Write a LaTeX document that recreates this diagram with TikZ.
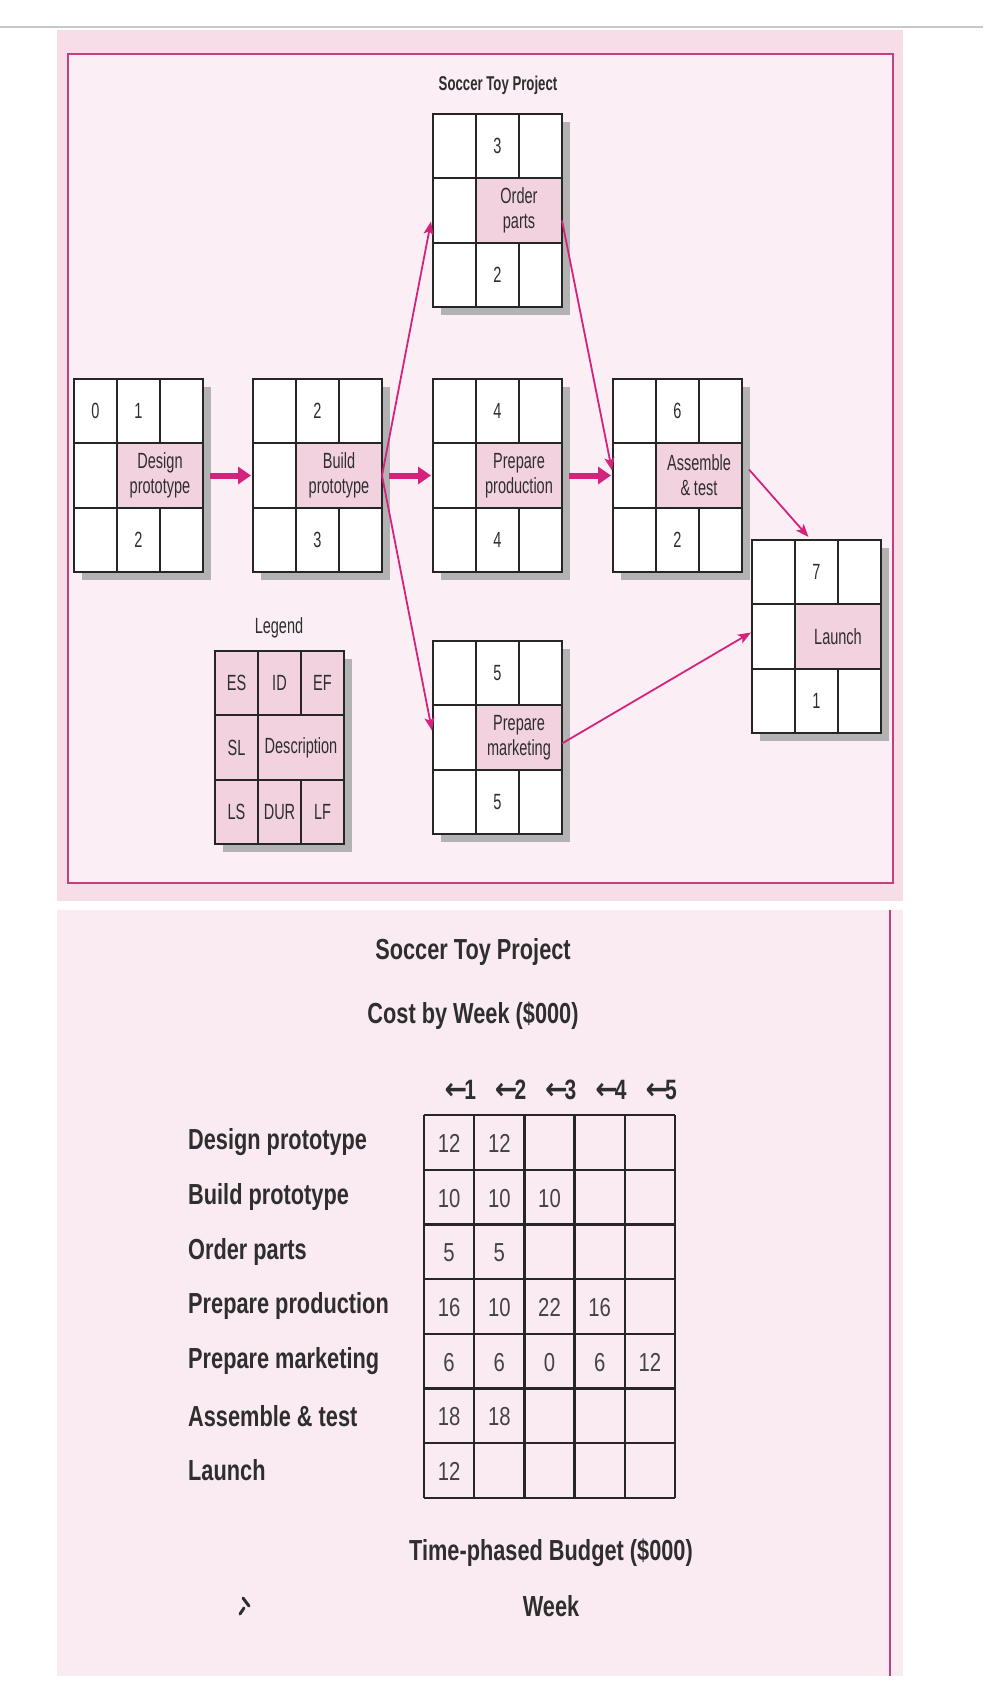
\documentclass[tikz,border=0pt]{standalone}
\usepackage{fontspec}
\usetikzlibrary{arrows.meta,calc}
\newfontfamily\cnd[FakeStretch=0.66]{Liberation Sans}
\newfontfamily\cndb[FakeStretch=0.75]{Liberation Sans}
\newfontfamily\cndn[FakeStretch=0.78]{Liberation Sans}
\newfontfamily\arrfont[FakeStretch=0.9]{DejaVu Sans}
\definecolor{mag}{HTML}{D4237C}
\definecolor{framec}{HTML}{C2407F}
\definecolor{outerpink}{HTML}{F6DDE7}
\definecolor{innerpink}{HTML}{FBEEF4}
\definecolor{lowpink}{HTML}{FAEBF2}
\definecolor{cellpink}{HTML}{F2D2DF}
\definecolor{shad}{HTML}{B2B2B2}
\definecolor{txt}{HTML}{2E2E2E}
\definecolor{topline}{HTML}{C8C8C8}
\tikzset{
  cellline/.style={draw=black!85, line width=1.8pt},
  tabline/.style={draw=black!85, line width=2.4pt},
  boxnode/.style={minimum width=129pt, minimum height=193pt, inner sep=0pt, outer sep=0pt},
  ntxt/.style={font=\cnd\fontsize{22}{25}\selectfont, text=txt, inner sep=0pt, align=center},
  ttl/.style={font=\cnd\bfseries\fontsize{20}{24}\selectfont, text=txt, inner sep=0pt},
  btxt/.style={font=\cndb\bfseries\fontsize{29}{33}\selectfont, text=txt, inner sep=0pt},
  tnum/.style={font=\cndn\fontsize{26}{30}\selectfont, text=txt!90, inner sep=0pt},
  hdr/.style={font=\cndb\bfseries\fontsize{28}{32}\selectfont, text=txt, inner sep=0pt},
  fatarrow/.style={draw=mag, line width=6pt, -{Triangle[length=13pt,width=17pt]}},
  linkarrow/.style={draw=mag, line width=1.8pt, -{Stealth[length=13pt,width=10pt,inset=3pt]}},
}
% activity box: name, x, y, fill of plain cells
\newcommand{\actbox}[4]{%
  \fill[shad] (#2+8,#3+8) rectangle (#2+137,#3+201);
  \node[boxnode] (#1) at (#2+64.5,#3+96.5) {};
  \fill[#4] (#2,#3) rectangle (#2+129,#3+193);
  \fill[cellpink] (#2+43,#3+64.33) rectangle (#2+129,#3+128.67);
  \draw[cellline] (#2,#3) rectangle (#2+129,#3+193)
     (#2,#3+64.33) -- (#2+129,#3+64.33)
     (#2,#3+128.67) -- (#2+129,#3+128.67)
     (#2+43,#3) -- (#2+43,#3+193)
     (#2+86,#3) -- (#2+86,#3+64.33)
     (#2+86,#3+128.67) -- (#2+86,#3+193);
}
% text in a cell: name, box x, box y, column, row, text
\newcommand{\cellat}[6]{\node[ntxt] (#1) at ({#2+43*(#4-0.5)},{#3+64.33*(#5-0.5)}) {#6};}
\begin{document}
\begin{tikzpicture}[x=1pt,y=-1pt]
\useasboundingbox (0,0) rectangle (983,1690);
\fill[white] (0,0) rectangle (983,1690);
\draw[topline, line width=2pt] (0,27) -- (983,27);
% ---------- top panel ----------
\fill[outerpink] (57,30) rectangle (903,901);
\fill[innerpink] (68,54) rectangle (893,883);
\draw[framec, line width=2.2pt] (68,54) rectangle (893,883);
\node[ttl] (title1) at (498,85) {Soccer Toy Project};

\actbox{design}{74}{379}{white}
\cellat{design-es}{74}{379}{1}{1}{0}
\cellat{design-id}{74}{379}{2}{1}{1}
\cellat{design-d}{74}{379}{2.5}{2}{Design\\prototype}
\cellat{design-du}{74}{379}{2}{3}{2}

\actbox{build}{253}{379}{white}
\cellat{build-id}{253}{379}{2}{1}{2}
\cellat{build-d}{253}{379}{2.5}{2}{Build\\prototype}
\cellat{build-du}{253}{379}{2}{3}{3}

\actbox{order}{433}{114}{white}
\cellat{order-id}{433}{114}{2}{1}{3}
\cellat{order-d}{433}{114}{2.5}{2}{Order\\parts}
\cellat{order-du}{433}{114}{2}{3}{2}

\actbox{prodn}{433}{379}{white}
\cellat{prodn-id}{433}{379}{2}{1}{4}
\cellat{prodn-d}{433}{379}{2.5}{2}{Prepare\\production}
\cellat{prodn-du}{433}{379}{2}{3}{4}

\actbox{mkt}{433}{641}{white}
\cellat{mkt-id}{433}{641}{2}{1}{5}
\cellat{mkt-d}{433}{641}{2.5}{2}{Prepare\\marketing}
\cellat{mkt-du}{433}{641}{2}{3}{5}

\actbox{assem}{613}{379}{white}
\cellat{assem-id}{613}{379}{2}{1}{6}
\cellat{assem-d}{613}{379}{2.5}{2}{Assemble\\\&\,test}
\cellat{assem-du}{613}{379}{2}{3}{2}

\actbox{launch}{752}{540}{white}
\cellat{launch-id}{752}{540}{2}{1}{7}
\cellat{launch-d}{752}{540}{2.5}{2}{Launch}
\cellat{launch-du}{752}{540}{2}{3}{1}

% legend
\node[ntxt] (legtitle) at (279,628) {Legend};
\actbox{legend}{215}{651}{cellpink}
\cellat{leg-es}{215}{651}{1}{1}{ES}
\cellat{leg-id}{215}{651}{2}{1}{ID}
\cellat{leg-ef}{215}{651}{3}{1}{EF}
\cellat{leg-sl}{215}{651}{1}{2}{SL}
\cellat{leg-d}{215}{651}{2.5}{2}{Description}
\cellat{leg-ls}{215}{651}{1}{3}{LS}
\cellat{leg-dur}{215}{651}{2}{3}{DUR}
\cellat{leg-lf}{215}{651}{3}{3}{LF}

% connectors
\draw[fatarrow] ($(design.east)+(7,0)$) -- ($(build.west)+(-2,0)$);
\draw[fatarrow] ($(build.east)+(7,0)$) -- ($(prodn.west)+(-2,0)$);
\draw[fatarrow] ($(prodn.east)+(7,0)$) -- ($(assem.west)+(-2,0)$);
\draw[linkarrow] (build.east) -- ($(order.west)+(-2,11)$);
\draw[linkarrow] (build.east) -- ($(mkt.west)+(-1,-7)$);
\draw[linkarrow] ($(order.east)+(0,10)$) -- ($(assem.west)+(-1,-5)$);
\draw[linkarrow] ($(assem.east)+(7,-6)$) -- ($(launch.north)+(-8,-3)$);
\draw[linkarrow] ($(mkt.east)+(0,6)$) -- ($(launch.west)+(-1,-4)$);

% ---------- bottom panel ----------
\fill[lowpink] (57,910) rectangle (903,1676);
\draw[framec, line width=2.2pt] (890,910) -- (890,1676);
\node[btxt] (title2) at (473,952) {Soccer Toy Project};
\node[btxt] (cost) at (473,1016) {Cost by Week (\$000)};
\foreach \c in {1,...,5}
  \node[hdr, anchor=east] (wk\c) at ({426+50.2*\c},1090) {{\arrfont\bfseries\fontsize{30}{32}\selectfont ←}\kern-3pt\c};
% table grid
\foreach \r in {0,...,7}
  \draw[tabline] (424,{1115+54.7*\r}) -- (675,{1115+54.7*\r});
\foreach \c in {0,...,5}
  \draw[tabline] ({424+50.2*\c},1115) -- ({424+50.2*\c},1498);
% row labels
\foreach \r/\lab in {1/Design prototype,2/Build prototype,3/Order parts,4/Prepare production,5/Prepare marketing,6/Assemble \& test,7/Launch}
  \node[btxt, anchor=west] (lab\r) at (188,{1115+54.7*(\r-0.5)}) {\lab};
% values
\foreach \r/\c/\v in {1/1/12,1/2/12,2/1/10,2/2/10,2/3/10,3/1/5,3/2/5,4/1/16,4/2/10,4/3/22,4/4/16,5/1/6,5/2/6,5/3/0,5/4/6,5/5/12,6/1/18,6/2/18,7/1/12}
  \node[tnum] (v\r\c) at ({424+50.2*(\c-0.5)},{1115+54.7*(\r-0.5)+1}) {\v};
\node[btxt] (tpb) at (551,1553) {Time-phased Budget (\$000)};
\node[btxt] (week) at (551,1606) {Week};
% small cut-off mark at lower left
\draw[txt, line width=3pt, line cap=round] (243,1598) -- (249,1606) (244,1608) -- (240,1614);
\end{tikzpicture}
\end{document}
